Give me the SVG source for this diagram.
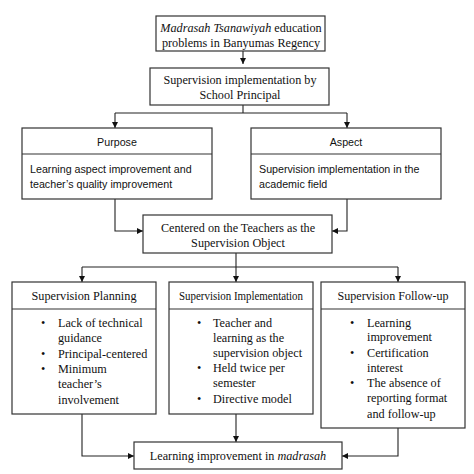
<svg xmlns="http://www.w3.org/2000/svg" width="474" height="474" viewBox="0 0 474 474">
<style>
.box{fill:#fff;stroke:#333;stroke-width:1.2}
.ln{fill:none;stroke:#222;stroke-width:1.1}
.s{font-family:"Liberation Serif",serif;font-size:12.2px;fill:#111}
.t{font-family:"Liberation Serif",serif;font-size:12.5px;fill:#111}
.h{font-family:"Liberation Sans",sans-serif;font-size:10.7px;fill:#111}
.m{text-anchor:middle}
</style>
<defs>
<marker id="a" viewBox="0 0 8 8" refX="8" refY="4" markerWidth="6" markerHeight="6" orient="auto" markerUnits="userSpaceOnUse"><path d="M0,0L8,4L0,8z" fill="#111"/></marker>
</defs>
<rect width="474" height="474" fill="#fff"/>
<g id="connectors">
<path class="ln" d="M243,51V64" marker-end="url(#a)"/>
<path class="ln" d="M243,105V113"/>
<path class="ln" d="M115,113H347"/>
<path class="ln" d="M115,113V128" marker-end="url(#a)"/>
<path class="ln" d="M347,113V128" marker-end="url(#a)"/>
<path class="ln" d="M115,199V231H143" marker-end="url(#a)"/>
<path class="ln" d="M347,199V231H332" marker-end="url(#a)"/>
<path class="ln" d="M236,253V267"/>
<path class="ln" d="M82,267H398"/>
<path class="ln" d="M82,267V282" marker-end="url(#a)"/>
<path class="ln" d="M236,267V282" marker-end="url(#a)"/>
<path class="ln" d="M398,267V282" marker-end="url(#a)"/>
<path class="ln" d="M82,414V456H134" marker-end="url(#a)"/>
<path class="ln" d="M236,414V442" marker-end="url(#a)"/>
<path class="ln" d="M398,428V456H342" marker-end="url(#a)"/>
</g>
<g id="n1">
<rect class="box" x="156" y="16" width="169" height="35"/>
<text class="s m" x="241" y="32"><tspan font-style="italic">Madrasah Tsanawiyah</tspan> education</text>
<text class="s m" x="241" y="47">problems in Banyumas Regency</text>
</g>
<g id="n2">
<rect class="box" x="150" y="68" width="179" height="37"/>
<text class="s m" x="240" y="84">Supervision implementation by</text>
<text class="s m" x="240" y="99">School Principal</text>
</g>
<g id="n3">
<rect class="box" x="22" y="128" width="190" height="71"/>
<path class="box" d="M22,154H212"/>
<text class="h m" x="117" y="146">Purpose</text>
<text class="h" x="30" y="173">Learning aspect improvement and</text>
<text class="h" x="30" y="188">teacher’s quality improvement</text>
</g>
<g id="n4">
<rect class="box" x="251" y="128" width="190" height="71"/>
<path class="box" d="M251,154H441"/>
<text class="h m" x="346" y="146">Aspect</text>
<text class="h" x="259" y="173">Supervision implementation in the</text>
<text class="h" x="259" y="188">academic field</text>
</g>
<g id="n5">
<rect class="box" x="143" y="215" width="189" height="38"/>
<text class="s m" x="238" y="232">Centered on the Teachers as the</text>
<text class="s m" x="238" y="247">Supervision Object</text>
</g>
<g id="n6">
<rect class="box" x="12" y="282" width="144" height="132"/>
<path class="box" d="M12,309H156"/>
<text class="t m" x="84" y="300" textLength="105" lengthAdjust="spacingAndGlyphs">Supervision Planning</text>
<g class="s">
<text x="41" y="327">•</text><text x="58" y="327">Lack of technical</text>
<text x="58" y="342">guidance</text>
<text x="41" y="358">•</text><text x="58" y="358">Principal-centered</text>
<text x="41" y="373">•</text><text x="58" y="373">Minimum</text>
<text x="58" y="388">teacher’s</text>
<text x="58" y="404">involvement</text>
</g>
</g>
<g id="n7">
<rect class="box" x="169" y="282" width="144" height="132"/>
<path class="box" d="M169,309H313"/>
<text class="t m" x="241" y="300" textLength="124" lengthAdjust="spacingAndGlyphs">Supervision Implementation</text>
<g class="s">
<text x="197" y="327">•</text><text x="213" y="327">Teacher and</text>
<text x="213" y="342">learning as the</text>
<text x="213" y="357">supervision object</text>
<text x="197" y="372">•</text><text x="213" y="372">Held twice per</text>
<text x="213" y="387">semester</text>
<text x="197" y="403">•</text><text x="213" y="403">Directive model</text>
</g>
</g>
<g id="n8">
<rect class="box" x="321" y="282" width="144" height="146"/>
<path class="box" d="M321,309H465"/>
<text class="t m" x="393" y="300" textLength="111" lengthAdjust="spacingAndGlyphs">Supervision Follow-up</text>
<g class="s">
<text x="350" y="327">•</text><text x="367" y="327">Learning</text>
<text x="367" y="341">improvement</text>
<text x="350" y="357">•</text><text x="367" y="357">Certification</text>
<text x="367" y="372">interest</text>
<text x="350" y="387">•</text><text x="367" y="387">The absence of</text>
<text x="367" y="402">reporting format</text>
<text x="367" y="418">and follow-up</text>
</g>
</g>
<g id="n9">
<rect class="box" x="134" y="442" width="208" height="27"/>
<text class="s m" x="238" y="460">Learning improvement in <tspan font-style="italic">madrasah</tspan></text>
</g>
</svg>
